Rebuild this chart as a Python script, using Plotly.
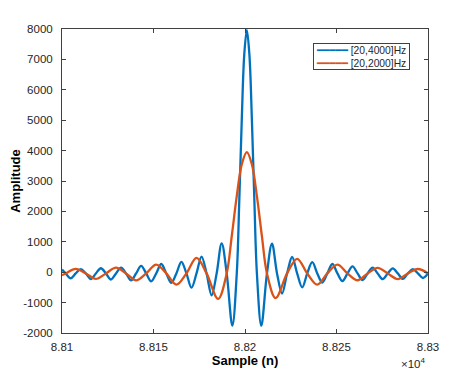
import plotly.graph_objects as go

# ---- data ----
BLUE_NAME = "[20,4000]Hz"
ORANGE_NAME = "[20,2000]Hz"

blue_n = [
    88100, 88102, 88104.75, 88107.5, 88110.25, 88113, 88115.75, 88118.5, 88121.25, 88124,
    88126.75, 88129.5, 88132.25, 88135, 88137.75, 88140.5, 88143.25, 88146, 88148.75, 88151.5,
    88154.25, 88157, 88159.75, 88162.5, 88165.25, 88168, 88170.75, 88173.5, 88176.25, 88179,
    88181.75, 88184.5, 88187.25, 88190, 88193.1, 88195.5, 88196.875, 88198.25, 88199.625, 88201,
    88202.375, 88203.75, 88205.125, 88206.5, 88208.9,
    88212, 88214.75, 88217.5, 88220.25, 88223, 88225.75, 88228.5, 88231.25, 88234, 88236.75,
    88239.5, 88242.25, 88245, 88247.75, 88250.5, 88253.25, 88256, 88258.75, 88261.5, 88264.25,
    88267, 88269.75, 88272.5, 88275.25, 88278, 88280.75, 88283.5, 88286.25, 88289, 88291.75,
    88294.5, 88297.25, 88300,
]
blue_amp = [
    85, -40, -200, -40, 100, -40, -225, -40, 130, -40,
    -240, -40, 150, -40, -270, -40, 210, -40, -300, -40,
    270, -40, -350, -40, 340, -40, -510, -40, 510, -40,
    -760, -40, 950, -40, -1760, -40, 2350, 5050, 7180, 7960,
    7180, 5050, 2350, -40, -1760,
    -40, 940, -40, -700, -40, 500, -40, -500, -40, 330,
    -40, -340, -40, 270, -40, -290, -40, 190, -40, -260,
    -40, 150, -40, -230, -40, 125, -40, -220, -40, 100,
    -40, -190, -40,
]

orange_n = [
    88100, 88102, 88107.5, 88113, 88118.5, 88124, 88129.5, 88135, 88140.5, 88146,
    88151.5, 88157, 88162.5, 88168, 88173.5, 88179, 88185.3, 88190, 88192.75, 88195.5,
    88198.25, 88201, 88203.75, 88206.5, 88209.25, 88212, 88216.7, 88223, 88228.5, 88234,
    88239.5, 88245, 88250.5, 88256, 88261.5, 88267, 88272.5, 88278, 88283.5, 88289,
    88294.5, 88300,
]
orange_amp = [
    -100, -40, 110, -40, -220, -40, 150, -40, -270, -40,
    250, -40, -410, -40, 470, -40, -880, -40, 1180, 2500,
    3550, 3950, 3550, 2500, 1180, -40, -850, -40, 440, -40,
    -410, -40, 250, -40, -265, -40, 145, -40, -225, -40,
    105, -40,
]

x_tick_vals = [88100, 88150, 88200, 88250, 88300]
x_tick_labels = ["8.81", "8.815", "8.82", "8.825", "8.83"]
y_tick_vals = [-2000, -1000, 0, 1000, 2000, 3000, 4000, 5000, 6000, 7000, 8000]
y_tick_labels = ["-2000", "-1000", "0", "1000", "2000", "3000", "4000", "5000", "6000", "7000", "8000"]

BLUE = "#0072BD"
ORANGE = "#D95319"
AXC = "#404040"
TXT = "#262626"
FONT = "Liberation Sans, Arial, sans-serif"

fig = go.Figure()
fig.add_trace(go.Scatter(x=blue_n, y=blue_amp, mode="lines", name=BLUE_NAME,
                         line=dict(color=BLUE, width=2.3, shape="spline", smoothing=1)))
fig.add_trace(go.Scatter(x=orange_n, y=orange_amp, mode="lines", name=ORANGE_NAME,
                         line=dict(color=ORANGE, width=2.3, shape="spline", smoothing=1)))

# the page body adds an 8px offset, so the figure is 466x366 to fit the 474x374 window
fig.update_layout(
    width=466, height=366,
    margin=dict(l=54, r=46, t=21, b=41, autoexpand=False),
    paper_bgcolor="white", plot_bgcolor="white",
    font=dict(family=FONT, size=11.5, color=TXT),
    showlegend=False,
    xaxis=dict(range=[88100, 88300], tickvals=x_tick_vals, ticktext=x_tick_labels,
               ticks="inside", ticklen=4, tickcolor=AXC, showline=True, linecolor=AXC,
               linewidth=1, mirror="ticks", showgrid=False, zeroline=False,
               automargin=False, ticklabelstandoff=3,
               title=dict(text="<b>Sample (n)</b>", font=dict(size=13, color="black"), standoff=4)),
    yaxis=dict(range=[-2000, 8000], tickvals=y_tick_vals, ticktext=y_tick_labels,
               ticks="inside", ticklen=4, tickcolor=AXC, showline=True, linecolor=AXC,
               linewidth=1, mirror="ticks", showgrid=False, zeroline=False,
               automargin=False, ticklabelstandoff=6,
               title=dict(text="<b>Amplitude</b>", font=dict(size=13, color="black"), standoff=12)),
)

# legend box (compact, MATLAB style) built from the trace names and colours
line_sym = "━━━━━"
legend_text = (
    f"&nbsp;<span style='color:{BLUE};font-family:DejaVu Sans'>{line_sym}</span>&nbsp;{BLUE_NAME}&nbsp;<br>"
    f"&nbsp;<span style='color:{ORANGE};font-family:DejaVu Sans'>{line_sym}</span>&nbsp;{ORANGE_NAME}&nbsp;"
)
fig.add_annotation(x=0.686, y=0.954, xref="paper", yref="paper", xanchor="left", yanchor="top",
                   showarrow=False, align="left", text=legend_text,
                   bgcolor="white", bordercolor=AXC, borderwidth=1, borderpad=0,
                   font=dict(size=10.3, color=TXT))

fig.add_annotation(x=1, y=0, xref="paper", yref="paper", xanchor="right", yanchor="middle",
                   yshift=-30, showarrow=False, text="×10<sup>4</sup>",
                   font=dict(size=11.5, color=TXT))

fig.write_html("out.html")
